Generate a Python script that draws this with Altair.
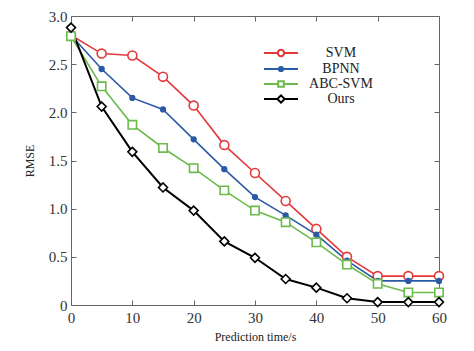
import altair as alt
import pandas as pd

time = [0, 5, 10, 15, 20, 25, 30, 35, 40, 45, 50, 55, 60]
svm = [2.80, 2.61, 2.59, 2.37, 2.07, 1.66, 1.37, 1.08, 0.79, 0.50, 0.30, 0.30, 0.30]
bpnn = [2.80, 2.45, 2.15, 2.03, 1.72, 1.41, 1.12, 0.93, 0.73, 0.46, 0.25, 0.25, 0.25]
abc_svm = [2.79, 2.27, 1.87, 1.63, 1.42, 1.19, 0.98, 0.86, 0.65, 0.42, 0.22, 0.13, 0.13]
ours = [2.88, 2.06, 1.59, 1.22, 0.98, 0.66, 0.49, 0.27, 0.18, 0.07, 0.03, 0.03, 0.03]

series = ["SVM", "BPNN", "ABC-SVM", "Ours"]
colors = ["#e3393a", "#2b5aa6", "#6cbb4c", "#000000"]
fills = ["white", "#2b5aa6", "white", "white"]
shapes = ["circle", "circle", "square", "diamond"]
sizes = [80, 22, 70, 80]
widths = [1.6, 1.6, 1.6, 2.0]

rows = []
for name, vals in zip(series, [svm, bpnn, abc_svm, ours]):
    for t, v in zip(time, vals):
        rows.append({"time": t, "rmse": v, "model": name, "entry": name})
df = pd.DataFrame(rows)

FONT = "Liberation Serif"

# legend symbols: line with small marker (unit = 7px)
legend_paths = [
    "M-2.43,0H-0.45M0.45,0H2.43M-0.45,0A0.45,0.45 0 1,0 0.45,0A0.45,0.45 0 1,0 -0.45,0Z",
    "M-2.43,0H2.43M-0.3,0A0.3,0.3 0 1,0 0.3,0A0.3,0.3 0 1,0 -0.3,0Z",
    "M-2.43,0H-0.4M0.4,0H2.43M-0.4,-0.4H0.4V0.4H-0.4Z",
    "M-2.43,0H-0.52M0.52,0H2.43M0,-0.52L0.52,0L0,0.52L-0.52,0Z",
]

xs = alt.Scale(domain=[0, 60], nice=False)
ys = alt.Scale(domain=[0, 3], nice=False)
xvals = [0, 10, 20, 30, 40, 50, 60]
yvals = [0, 0.5, 1, 1.5, 2, 2.5, 3]

x_axis = alt.Axis(values=xvals, offset=-5, tickSize=5, domain=False, grid=False, labelFlush=False,
                  labelPadding=5, title="Prediction time/s", titlePadding=6, labelFontSize=15,
                  titleFontSize=12)
y_axis = alt.Axis(values=yvals, offset=-5, tickSize=5, domain=False, grid=False, labelFlush=False,
                  labelPadding=4, labelExpr="datum.value == 0 ? '0' : format(datum.value, '.1f')",
                  title="RMSE", titlePadding=12, labelFontSize=15, titleFontSize=12)

legend = alt.Legend(
    title=None, orient="none", legendX=202, legendY=29, padding=0,
    symbolSize=196, symbolStrokeWidth=2.0, symbolOpacity=1, labelAlign="center", labelOffset=52,
    labelFont=FONT, labelFontSize=14, labelColor="#222", rowPadding=0,
)

lines = alt.Chart(df).mark_line().encode(
    x=alt.X("time:Q", scale=xs, axis=x_axis),
    y=alt.Y("rmse:Q", scale=ys, axis=y_axis),
    color=alt.Color("model:N", scale=alt.Scale(domain=series, range=colors), legend=None),
    strokeWidth=alt.StrokeWidth("model:N", scale=alt.Scale(type="ordinal", domain=series, range=widths),
                                legend=None),
    order=alt.Order("time:Q"),
)

points = alt.Chart(df).mark_point(strokeWidth=1.6, opacity=1, filled=False).encode(
    x=alt.X("time:Q", scale=xs, axis=None),
    y=alt.Y("rmse:Q", scale=ys, axis=None),
    stroke=alt.Stroke("model:N", scale=alt.Scale(domain=series, range=colors), legend=None),
    fill=alt.Fill("model:N", scale=alt.Scale(domain=series, range=fills), legend=None),
    shape=alt.Shape("model:N", scale=alt.Scale(domain=series, range=shapes), legend=None),
    size=alt.Size("model:N", scale=alt.Scale(type="ordinal", domain=series, range=sizes), legend=None),
)

legend_src = alt.Chart(df).mark_point(opacity=0, filled=False).encode(
    x=alt.X("time:Q", scale=xs, axis=None),
    y=alt.Y("rmse:Q", scale=ys, axis=None),
    stroke=alt.Stroke("entry:N", scale=alt.Scale(domain=series, range=colors), legend=legend),
    fill=alt.Fill("entry:N", scale=alt.Scale(domain=series, range=fills), legend=legend),
    shape=alt.Shape("entry:N", scale=alt.Scale(domain=series, range=legend_paths), legend=legend),
)

frame = alt.Chart(df).mark_line(opacity=0).encode(
    x=alt.X("time:Q", scale=xs, axis=alt.Axis(orient="top", values=xvals,
                                               offset=-5, tickSize=5, domain=False, labels=False,
                                               grid=False, title=None)),
    y=alt.Y("rmse:Q", scale=ys, axis=alt.Axis(orient="right", values=yvals,
                                               offset=-5, tickSize=5, domain=False, labels=False,
                                               grid=False, title=None)),
    detail="model:N",
)

chart = alt.layer(lines, points, legend_src, frame).resolve_axis(
    x="independent", y="independent"
).resolve_scale(
    stroke="independent", fill="independent", shape="independent"
).properties(
    width=368, height=289, autosize="none", background="white",
    padding={"left": 71, "top": 16, "right": 35, "bottom": 46},
).configure_view(stroke="#666", strokeWidth=1).configure_axis(
    labelFont=FONT, titleFont=FONT, labelColor="#333", titleColor="#222",
    tickColor="#666", titleFontWeight="normal",
)

chart.save("out.html", embed_options={"renderer": "svg", "actions": False})
